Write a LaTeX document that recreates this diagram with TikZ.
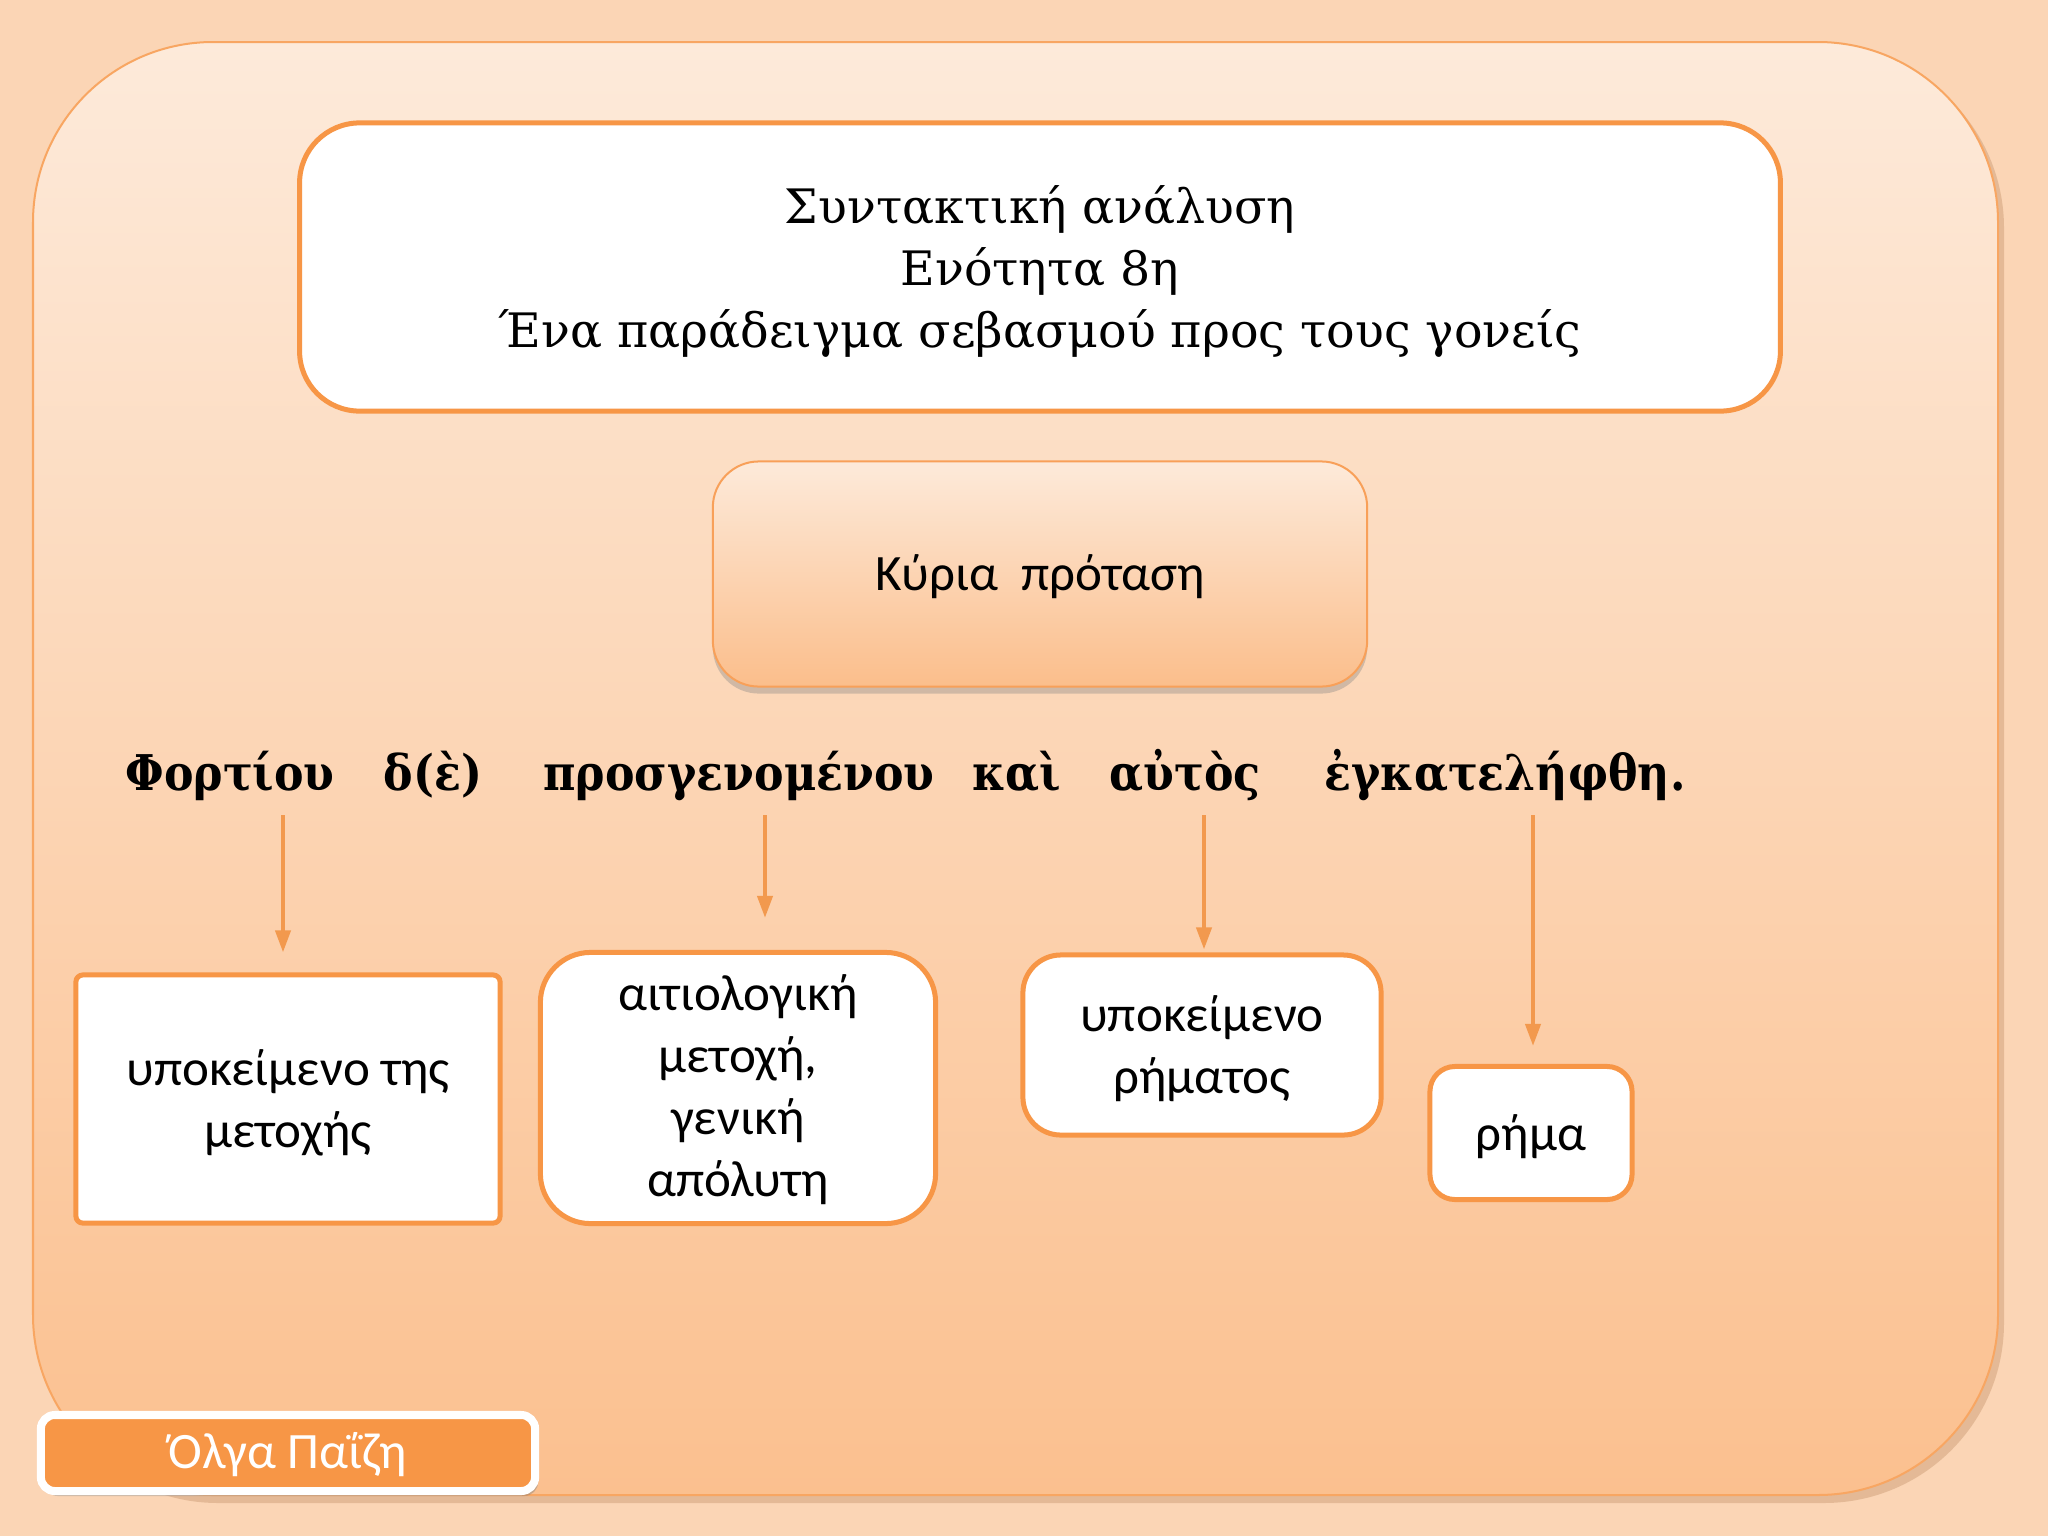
\documentclass[tikz,border=0pt]{standalone}
\usepackage{fontspec}
\setmainfont{DejaVu Serif}
\newfontfamily\titlefont{DejaVu Serif}
\newfontfamily\grkfont[FakeStretch=0.9]{DejaVu Serif}
\newfontfamily\sansgr{Carlito}
\usetikzlibrary{shadows,arrows.meta}
\definecolor{bgc}{HTML}{FBD5B5}
\definecolor{paneltop}{HTML}{FDEADA}
\definecolor{panelbot}{HTML}{FBC08F}
\definecolor{orng}{HTML}{F79646}
\definecolor{arrc}{HTML}{F2994E}
\newcommand{\lowtxt}[2]{\raisebox{-#1}[\height][\depth]{\begin{tabular}{@{}c@{}}#2\end{tabular}}}
\tikzset{
  wordnode/.style={anchor=base, inner sep=0pt, font=\grkfont\bfseries\fontsize{14}{17}\selectfont},
  sbox/.style={draw=orng, line width=0.05cm, fill=white, align=center, inner sep=0pt,
    font=\sansgr\fontsize{14.5}{17.6}\selectfont},
  arr/.style={draw=arrc, line width=0.04cm, -{Triangle[length=0.22cm,width=0.15cm]}},
}
\begin{document}
\begin{tikzpicture}[x=0.01cm,y=-0.01cm]
\useasboundingbox (0,0) rectangle (2048,1536);
\fill[bgc] (0,0) rectangle (2048,1536);
% main panel
\fill[orng!60!black, opacity=0.22, rounded corners=1.8cm] (38,48) rectangle (2004,1503);
\shade[top color=paneltop, bottom color=panelbot, draw=orng!85, line width=0.02cm, rounded corners=1.8cm] (33,42) rectangle (1998,1495);

% title
\node[draw=orng, line width=0.05cm, fill=white, rounded corners=0.6cm,
  minimum width=14.8cm, minimum height=2.88cm, align=center, inner sep=0pt,
  font=\titlefont\fontsize{13.5}{17.7}\selectfont] (title) at (1040,267)
  {\lowtxt{0.06cm}{Συντακτική ανάλυση\\Ενότητα 8η\\Ένα παράδειγμα σεβασμού προς τους γονείς}};

% main clause box
\node[draw=orng!90, line width=0.02cm, top color=paneltop, bottom color=panelbot!95!orng,
  rounded corners=0.46cm, minimum width=6.54cm, minimum height=2.25cm,
  drop shadow={opacity=0.35, shadow xshift=0cm, shadow yshift=-0.07cm},
  font=\sansgr\fontsize{14.5}{17}\selectfont, inner sep=0pt] (kyria) at (1040,574)
  {\lowtxt{0.05cm}{Κύρια\ \ πρόταση}};

% sentence words
\node[wordnode] (w1) at (230,790) {Φορτίου};
\node[wordnode] (w2) at (433,790) {δ(ὲ)};
\node[wordnode] (w3) at (739,790) {προσγενομένου};
\node[wordnode] (w4) at (1017,790) {καὶ};
\node[wordnode] (w5) at (1185,790) {αὐτὸς};
\node[wordnode] (w6) at (1505,790) {ἐγκατελήφθη.};

% boxes
\node[sbox, rounded corners=0.07cm, minimum width=4.24cm, minimum height=2.48cm] (b1) at (288,1099)
  {\lowtxt{0.05cm}{υποκείμενο της\\μετοχής}};
\node[sbox, rounded corners=0.5cm, minimum width=3.95cm, minimum height=2.71cm] (b2) at (738,1088)
  {\lowtxt{0.03cm}{αιτιολογική\\μετοχή,\\γενική\\απόλυτη}};
\node[sbox, rounded corners=0.38cm, minimum width=3.58cm, minimum height=1.8cm] (b3) at (1202,1045)
  {\lowtxt{0.05cm}{υποκείμενο\\ρήματος}};
\node[sbox, rounded corners=0.25cm, minimum width=2.02cm, minimum height=1.33cm] (b4) at (1531,1133)
  {\lowtxt{0.05cm}{ρήμα}};

% arrows
\coordinate (a1) at (283,815);
\coordinate (a2) at (765,815);
\coordinate (a3) at (1204,815);
\coordinate (a4) at (1533,815);
\draw[arr, shorten >=0.2cm] (a1) -- (a1 |- b1.north);
\draw[arr, shorten >=0.32cm] (a2) -- (a2 |- b2.north);
\draw[arr, shorten >=0.03cm] (a3) -- (a3 |- b3.north);
\draw[arr, shorten >=0.18cm] (a4) -- (a4 |- b4.north);

% author badge
\node[fill=orng, draw=white, line width=0.08cm, rounded corners=0.14cm,
  minimum width=4.94cm, minimum height=0.76cm, inner sep=0pt, text=white,
  drop shadow={opacity=0.4, shadow xshift=0.03cm, shadow yshift=-0.05cm},
  font=\sansgr\fontsize{14.5}{17}\selectfont] (author) at (288,1453) {\lowtxt{0.04cm}{Όλγα Παΐζη}};
\end{tikzpicture}
\end{document}
